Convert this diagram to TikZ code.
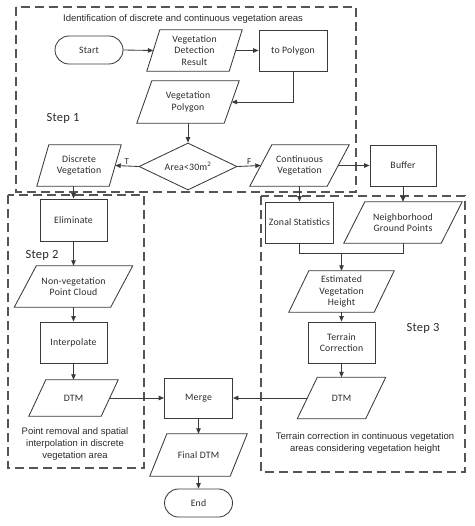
\documentclass[tikz,border=0pt]{standalone}
\usepackage{fontspec}
\setmainfont{Carlito}[LetterSpace=2]
\newfontfamily\arialf{Liberation Sans}
\usetikzlibrary{shapes.geometric,arrows.meta,calc}
\definecolor{txt}{HTML}{2A2A2A}
\definecolor{ln}{HTML}{3A3A3A}
\definecolor{dsh}{HTML}{555555}
\tikzset{
  base/.style={font=\fontsize{9.8}{11.5}\selectfont, text=txt, align=center, inner sep=0pt},
  box/.style={base, draw=ln, line width=0.85pt, rectangle},
  term/.style={base, draw=ln, line width=0.85pt, rectangle, rounded corners=14pt},
  para/.style={base, rectangle},
  dia/.style={base, draw=ln, line width=0.85pt, diamond, aspect=2.08, minimum width=98pt, minimum height=47pt},
  arr/.style={draw=ln, line width=0.85pt, -{Triangle[length=5.5pt,width=4.5pt]}},
  conn/.style={draw=ln, line width=0.85pt},
  stepbox/.style={draw=dsh, line width=1.2pt, dash pattern=on 9pt off 5pt},
  steplabel/.style={font=\fontsize{12.5}{14}\selectfont, text=txt, inner sep=0pt},
  desc/.style={font=\arialf\fontsize{9.5}{11.8}\selectfont, text=txt, align=center, inner sep=0pt},
  lbl/.style={font=\fontsize{9}{10}\selectfont, text=txt, inner sep=1pt}
}
\begin{document}
\begin{tikzpicture}[x=1pt,y=-1pt]
\useasboundingbox (0,0) rectangle (474,526);
% dashed step boxes
\draw[stepbox] (16,7) rectangle (356,192);
\draw[stepbox] (8,195) rectangle (144,468);
\draw[stepbox] (261,196) rectangle (465,472);

\node[desc] (title) at (183,19) {Identification of discrete and continuous vegetation areas};
\node[steplabel] (s1) at (63,118) {Step 1};
\node[steplabel] (s2) at (42,255) {Step 2};
\node[steplabel] (s3) at (423,328) {Step 3};

% Step 1 nodes
\node[term, minimum width=68pt, minimum height=28pt] (start) at (89,50) {Start};
\node[para, minimum width=82pt, minimum height=41pt] (vdr) at (194.5,50.5) {Vegetation\\Detection\\Result};
\node[box, minimum width=68pt, minimum height=41pt] (topoly) at (293,50.5) {to Polygon};
\node[para, minimum width=87pt, minimum height=42pt] (vp) at (188,102) {Vegetation\\Polygon};
\node[dia] (area) at (188,166.5) {Area<30m\textsuperscript{2}};
\node[para, minimum width=72pt, minimum height=41pt] (dv) at (79,165.5) {Discrete\\Vegetation};
\node[para, minimum width=77pt, minimum height=41pt] (cv) at (299.5,165.5) {Continuous\\Vegetation};
\node[box, minimum width=66pt, minimum height=41pt] (buffer) at (403,165.5) {Buffer};

% Step 2 nodes
\node[box, minimum width=67pt, minimum height=42pt] (elim) at (73.5,220) {Eliminate};
\node[para, minimum width=96pt, minimum height=41pt] (nvpc) at (73.5,286.5) {Non-vegetation\\Point Cloud};
\node[box, minimum width=67pt, minimum height=41pt] (interp) at (73.5,342.5) {Interpolate};
\node[para, minimum width=72pt, minimum height=36pt] (dtml) at (73.5,398) {DTM};
\node[desc] (descl) at (75,444) {Point removal and spatial\\interpolation in discrete\\vegetation area};

% Step 3 nodes
\node[box, minimum width=68pt, minimum height=41pt] (zonal) at (299.5,222.5) {Zonal Statistics};
\node[para, minimum width=97pt, minimum height=41pt] (ngp) at (403,222.5) {Neighborhood\\Ground Points};
\coordinate (j) at (341.5,253);
\node[para, minimum width=85pt, minimum height=41pt] (evh) at (341.5,291.5) {Estimated\\Vegetation\\Height};
\node[box, minimum width=67pt, minimum height=41pt] (tc) at (341.5,342.5) {Terrain\\Correction};
\node[para, minimum width=68pt, minimum height=41pt] (dtmr) at (341.5,398) {DTM};
\node[desc] (descr) at (365,443) {Terrain correction in continuous vegetation\\areas considering vegetation height};

% Merge
\node[box, minimum width=68pt, minimum height=40pt] (merge) at (198.5,398) {Merge};
\node[para, minimum width=80pt, minimum height=42pt] (fdtm) at (198.5,455) {Final DTM};
\node[term, minimum width=68pt, minimum height=28pt] (end) at (198.5,503) {End};

% parallelogram outlines
\foreach \n/\s in {vdr/6.5pt, vp/7.5pt, dv/6pt, cv/11pt, nvpc/11pt, dtml/8.5pt, ngp/10.5pt, evh/10pt, dtmr/10pt, fdtm/8.5pt}
  \draw[conn] ([xshift=-\s]\n.south west) -- ([xshift=\s]\n.north west) -- ([xshift=\s]\n.north east) -- ([xshift=-\s]\n.south east) -- cycle;

% connectors
\draw[arr] (start.east) -- (vdr.west);
\draw[arr] (vdr.east) -- (topoly.west);
\draw[arr] (topoly.south) |- (vp.east);
\draw[arr] (vp.south) -- (area.north);
\draw[arr] (area.west) -- node[lbl, above] {T} (dv.east);
\draw[arr] (area.east) -- node[lbl, above] {F} (cv.west);
\draw[arr] (cv.east) -- (buffer.west);
\draw[arr] (elim.north |- dv.south) -- (elim.north);
\draw[arr] (elim.south) -- (nvpc.north);
\draw[arr] (nvpc.south) -- (interp.north);
\draw[arr] (interp.south) -- (dtml.north);
\draw[arr] (cv.south) -- (zonal.north);
\draw[arr] (buffer.south) -- (ngp.north);
\draw[conn] (zonal.south) |- (ngp.south |- j) -- (ngp.south);
\draw[arr] (j) -- (evh.north);
\draw[arr] (evh.south) -- (tc.north);
\draw[arr] (tc.south) -- (dtmr.north);
\draw[arr] (dtml.east) -- (merge.west);
\draw[arr] (dtmr.west) -- (merge.east);
\draw[arr] (merge.south) -- (fdtm.north);
\draw[arr] (fdtm.south) -- (end.north);
\end{tikzpicture}
\end{document}
